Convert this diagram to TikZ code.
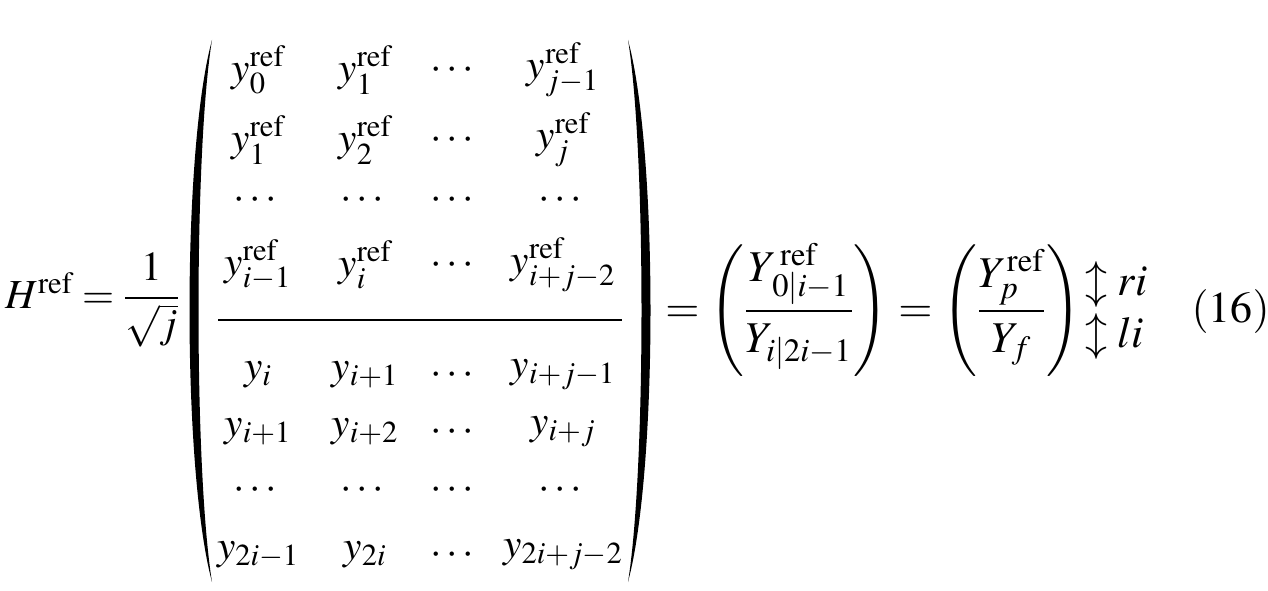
\documentclass[tikz,border=0pt]{standalone}
\usepackage{amsmath}
\usepackage{mathptmx}
\begin{document}
\begin{tikzpicture}[x=0.02cm,y=-0.02cm,
  e/.style={inner sep=0pt,font=\fontsize{23.5}{28}\selectfont},
  paren/.style={fill=black}]
\useasboundingbox (0,0) rectangle (1268,591);
\newcommand{\rf}{\mathrm{ref}}
% left side
\node[e,anchor=west] (H) at (5,300) {$H^{\rf}=\dfrac{1}{\sqrt{j}}$};
% parens
\fill[paren] (212,40) .. controls (182,150) and (182,470) .. (212,582)
  .. controls (194,470) and (194,150) .. (212,40) -- cycle;
\fill[paren] (628,40) .. controls (658,150) and (658,470) .. (628,582)
  .. controls (646,470) and (646,150) .. (628,40) -- cycle;
% entries
\foreach \x/\y/\t in {
 258/70/{y_0^{\rf}}, 365/70/{y_1^{\rf}}, 455/70/{\cdots}, 563/70/{y_{j-1}^{\rf}},
 258/140/{y_1^{\rf}}, 365/140/{y_2^{\rf}}, 455/140/{\cdots}, 563/140/{y_j^{\rf}},
 258/200/{\cdots}, 365/200/{\cdots}, 455/200/{\cdots}, 563/200/{\cdots},
 258/265/{y_{i-1}^{\rf}}, 365/265/{y_i^{\rf}}, 455/265/{\cdots}, 563/265/{y_{i+j-2}^{\rf}},
 258/375/{y_i}, 365/375/{y_{i+1}}, 455/375/{\cdots}, 563/375/{y_{i+j-1}},
 258/432/{y_{i+1}}, 365/432/{y_{i+2}}, 455/432/{\cdots}, 563/432/{y_{i+j}},
 258/490/{\cdots}, 365/490/{\cdots}, 455/490/{\cdots}, 563/490/{\cdots},
 258/555/{y_{2i-1}}, 365/555/{y_{2i}}, 455/555/{\cdots}, 563/555/{y_{2i+j-2}}}
 \node[e] at (\x,\y) {$\t$};
\draw[line width=1.1pt] (218,320) -- (622,320);
% right side
\node[e,anchor=west,font=\fontsize{25}{30}\selectfont] (R) at (665,310) {$=\left(\dfrac{Y^{\,\rf}_{\,0|i-1}}{Y_{i|2i-1}}\right)=\left(\dfrac{Y_p^{\rf}}{Y_f}\right)\begin{array}{@{}l@{}}\updownarrow ri\\ \updownarrow li\end{array}\quad(16)$};
\end{tikzpicture}
\end{document}
